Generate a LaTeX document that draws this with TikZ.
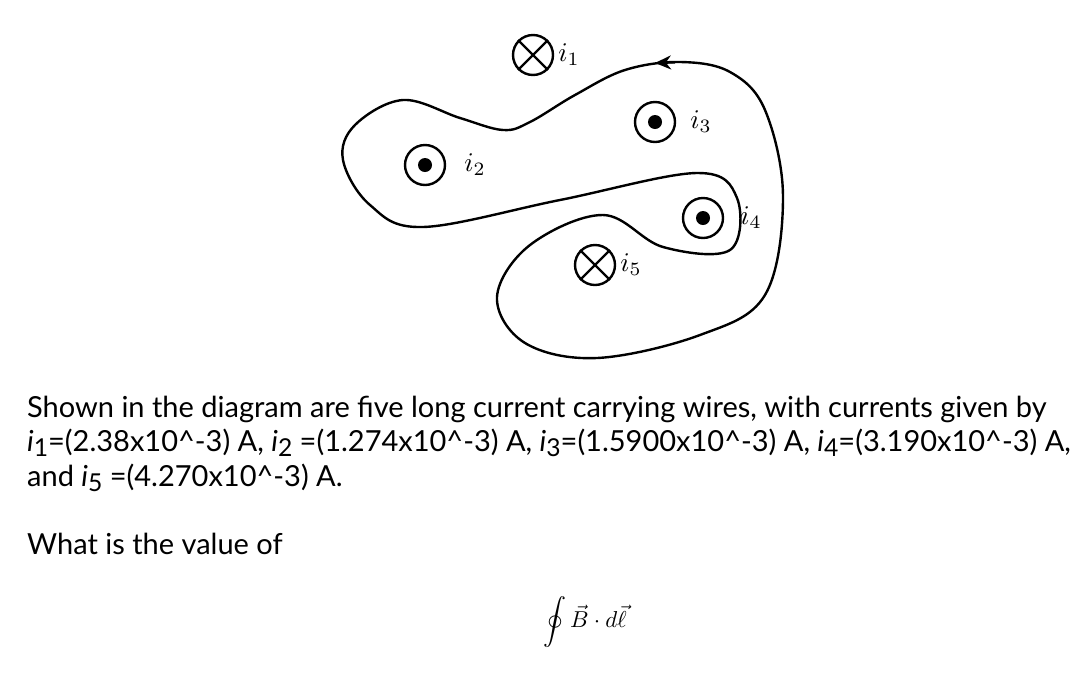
\documentclass[tikz,border=0pt]{standalone}
\usepackage{fontspec}
\setmainfont{Lato}
\usetikzlibrary{arrows.meta,positioning}
\newcommand{\ii}[1]{\textit{i}\raisebox{-0.35ex}{\scalebox{0.85}{#1}}}
\begin{document}
\begin{tikzpicture}[x=1pt,y=-1pt,
  wire/.style={draw,line width=2.4pt,circle,minimum size=40pt,inner sep=0},
  lbl/.style={inner sep=0},
  txt/.style={anchor=base west,inner sep=0,font=\fontsize{29}{30}\selectfont}]
\useasboundingbox (0,0) rectangle (1087,681);
% loop
\draw[line width=2.4pt]
 plot[smooth cycle,tension=0.6] coordinates{
 (680,62) (625,70) (575,95) (530,122) (503,130) (460,118) (403,100) (355,125) (343,160) (370,205) (423,227)
 (560,200) (697,173) (737,198) (730,250) (663,247) (603,215) (530,245) (497,297) (525,343) (597,358)
 (700,335) (765,295) (783,197) (765,110) (730,72)};
\coordinate (a1) at (675,62.3);
\coordinate (a2) at (655,63);
\draw[-{Stealth[length=16pt,width=14pt]},line width=2.4pt] (a1) -- (a2);
\node[wire] (w1) at (533,55) {};
\draw[line width=2.4pt] (w1.north west)--(w1.south east) (w1.north east)--(w1.south west);
\node[wire] (w5) at (595,265) {};
\draw[line width=2.4pt] (w5.north west)--(w5.south east) (w5.north east)--(w5.south west);
\foreach \n/\p in {w2/{(425,165)},w3/{(655,122)},w4/{(703,218)}}{
  \node[wire] (\n) at \p {};
  \fill (\n.center) circle (7pt);}
\node[lbl,right=4pt of w1] (l1) {\scalebox{2.7}{$i_1$}};
\node[lbl,right=18pt of w2] (l2) {\scalebox{2.7}{$i_2$}};
\node[lbl,right=14pt of w3] (l3) {\scalebox{2.7}{$i_3$}};
\node[lbl,right=16pt of w4] (l4) {\scalebox{2.7}{$i_4$}};
\node[lbl,right=4pt of w5] (l5) {\scalebox{2.7}{$i_5$}};
% text
\node[txt] (t1) at (27,417) {Shown in the diagram are five long current carrying wires, with currents given by};
\node[txt] (t2) at (27,451) {\ii{1}=(2.38x10\^{}-3) A, \ii{2} =(1.274x10\^{}-3) A, \ii{3}=(1.5900x10\^{}-3) A, \ii{4}=(3.190x10\^{}-3) A,};
\node[txt] (t3) at (27,486) {and \ii{5} =(4.270x10\^{}-3) A.};
\node[txt] (t4) at (27,554) {What is the value of};
\node (m) at (585,622) {\scalebox{2.3}{$\displaystyle\oint \vec{B}\cdot d\vec{\ell}$}};
\end{tikzpicture}
\end{document}
